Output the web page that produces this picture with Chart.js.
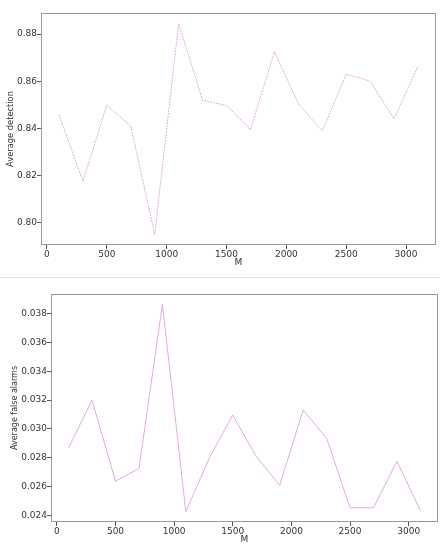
<!DOCTYPE html>
<html lang="en">
  <head>
    <meta charset="utf-8" />
    <title>Average detection / false alarms vs M</title>
    <style>
      * {
        margin: 0;
        padding: 0;
      }
      body {
        background: white;
      }
      .page {
        position: relative;
        width: 444px;
        height: 550px;
        background: white;
      }
      .page canvas {
        position: absolute;
        left: 0;
      }
      #topChart {
        top: 0;
      }
      #bottomChart {
        top: 280px;
      }
      .divider {
        position: absolute;
        left: 0;
        top: 277px;
        width: 440px;
        height: 1px;
        background: #e3e3e3;
      }
    </style>
  </head>
  <body>
    <div class="page">
      <canvas id="topChart" width="444" height="275"></canvas>
      <div class="divider"></div>
      <canvas id="bottomChart" width="444" height="270"></canvas>
    </div>
    <script src="https://cdn.jsdelivr.net/npm/chart.js"></script>
    <script>
      // data
      const mValues = [100, 300, 500, 700, 900, 1100, 1300, 1500, 1700, 1900, 2100, 2300, 2500, 2700, 2900, 3100];
      const detection = [0.8458, 0.8174, 0.8499, 0.8409, 0.7948, 0.8845, 0.8519, 0.8496, 0.8394, 0.8725, 0.8504, 0.8388, 0.863, 0.86, 0.844, 0.8664];
      const falseAlarms = [0.02869, 0.032, 0.02637, 0.02725, 0.03865, 0.02426, 0.02799, 0.03097, 0.02809, 0.02609, 0.03131, 0.02936, 0.02453, 0.02453, 0.02776, 0.02433];

      const mTicks = [0, 500, 1000, 1500, 2000, 2500, 3000];
      const detectionTicks = [0.8, 0.82, 0.84, 0.86, 0.88];
      const falseAlarmTicks = [0.024, 0.026, 0.028, 0.03, 0.032, 0.034, 0.036, 0.038];

      const textColor = "#333";
      const fontFamily = "'DejaVu Sans', sans-serif";

      // matplotlib style box round the plot area
      const frame = {
        id: "frame",
        beforeDatasetsDraw(chart) {
          const { ctx, chartArea: a } = chart;
          ctx.save();
          ctx.strokeStyle = "#9a9a9a";
          ctx.lineWidth = 1;
          ctx.strokeRect(a.left + 0.5, a.top + 0.5, a.right - a.left - 1, a.bottom - a.top - 1);
          ctx.restore();
        },
      };

      function makeChart(id, values, yTicks, digits, yLabel, box) {
        return new Chart(document.getElementById(id), {
          type: "line",
          data: {
            datasets: [
              {
                data: mValues.map((m, i) => ({ x: m, y: values[i] })),
                borderColor: "#e2a8e4",
                borderWidth: 1,
                borderDash: box.dash,
                pointRadius: 0,
                tension: 0,
              },
            ],
          },
          options: {
            responsive: false,
            animation: false,
            events: [],
            layout: { padding: { top: box.top, right: box.right, left: 0, bottom: 0 } },
            plugins: { legend: { display: false }, tooltip: { enabled: false } },
            scales: {
              x: {
                type: "linear",
                min: -50,
                max: 3250,
                afterBuildTicks: (scale) => {
                  scale.ticks = mTicks.map((v) => ({ value: v }));
                },
                afterFit: (scale) => {
                  scale.height = box.xHeight;
                },
                border: { display: false },
                grid: { drawOnChartArea: false, drawTicks: true, tickLength: 4, color: "#555" },
                ticks: {
                  padding: 0,
                  maxRotation: 0,
                  autoSkip: false,
                  color: textColor,
                  font: { family: fontFamily, size: 9 },
                  callback: (v) => String(v),
                },
                title: {
                  display: true,
                  text: "M",
                  color: textColor,
                  font: { family: fontFamily, size: 9 },
                  padding: { top: 0, bottom: box.xTitlePad },
                },
              },
              y: {
                type: "linear",
                min: box.yMin,
                max: box.yMax,
                afterBuildTicks: (scale) => {
                  scale.ticks = yTicks.map((v) => ({ value: v }));
                },
                afterFit: (scale) => {
                  scale.width = box.yWidth;
                },
                border: { display: false },
                grid: { drawOnChartArea: false, drawTicks: true, tickLength: 4, color: "#555" },
                ticks: {
                  padding: 0,
                  autoSkip: false,
                  color: textColor,
                  font: { family: fontFamily, size: 9 },
                  callback: (v) => Number(v).toFixed(digits),
                },
                title: {
                  display: true,
                  text: yLabel,
                  color: textColor,
                  font: { family: fontFamily, size: box.titleSize },
                  padding: { top: box.yTitlePad, bottom: 0 },
                },
              },
            },
          },
          plugins: [frame],
        });
      }

      makeChart("topChart", detection, detectionTicks, 2, "Average detection", {
        top: 13, right: 8, yWidth: 41, xHeight: 30, yTitlePad: 6, xTitlePad: 6.5,
        yMin: 0.7903, yMax: 0.889, dash: [2, 1], titleSize: 8.3,
      });

      makeChart("bottomChart", falseAlarms, falseAlarmTicks, 3, "Average false alarms", {
        top: 14, right: 6, yWidth: 51, xHeight: 28, yTitlePad: 10, xTitlePad: 4.5,
        yMin: 0.02354, yMax: 0.03937, dash: [], titleSize: 8,
      });
    </script>
  </body>
</html>
